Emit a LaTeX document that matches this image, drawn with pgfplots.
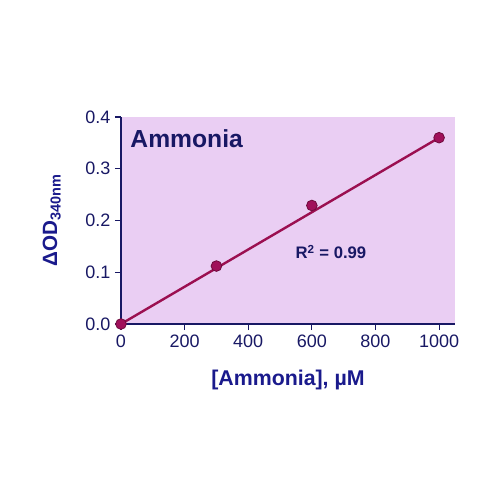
\documentclass[border=0pt]{standalone}
\usepackage{pgfplots}
\pgfplotsset{compat=1.18}
\usepackage{fontspec}
\setmainfont{Liberation Sans}
\definecolor{plotbg}{RGB}{234,206,243}
\definecolor{navy}{RGB}{24,24,100}
\definecolor{labelblue}{RGB}{26,26,140}
\definecolor{fitline}{RGB}{155,15,80}
\definecolor{markfill}{RGB}{160,16,90}
\definecolor{markdraw}{RGB}{110,10,60}

\begin{document}
\begin{tikzpicture}[x=1pt,y=1pt]
\path[use as bounding box] (-90.75,-132) rectangle (284.25,243);
\begin{axis}[
at={(0,0)}, anchor=south west,
scale only axis,
width=250.5pt, height=155.25pt,
xmin=0, xmax=1050,
ymin=0, ymax=0.4,
axis lines=left,
axis line style={-, draw=navy, line width=1pt},
axis background/.style={fill=plotbg},
xtick={0,200,400,600,800,1000},
ytick={0,0.1,0.2,0.3,0.4},
xticklabel style={/pgf/number format/1000 sep={}},
yticklabel style={/pgf/number format/fixed, /pgf/number format/fixed zerofill, /pgf/number format/precision=1},
/pgf/number format/assume math mode=true,
tick align=outside,
major tick length=4.5pt,
tick style={draw=navy, line width=0.8pt},
ticklabel style={font=\fontsize{13.5}{15}\selectfont, text=navy},
xlabel={\bfseries [Ammonia], µM},
ylabel={\bfseries ΔOD\textsubscript{340nm}},
label style={text=labelblue},
xlabel style={font=\fontsize{16}{18}\selectfont, at={(axis description cs:0.5,-0.27)}, anchor=center},
ylabel style={font=\fontsize{15.5}{18}\selectfont, at={(axis description cs:-0.207,0.5)}, anchor=center},
clip=false,
]
% regression line
\addplot[draw=fitline, line width=1.8pt] coordinates {(0,0) (1000,0.36)};
% measured points
\addplot[only marks, mark=*, mark size=4pt, mark options={fill=markfill, draw=markdraw, line width=0.6pt}]
coordinates {(0,0) (300,0.112) (600,0.229) (1000,0.360)};
\node[anchor=west, text=navy, font=\fontsize{18.5}{22}\selectfont\bfseries] at (axis cs:15,0.359) {Ammonia};
\node[text=navy, font=\fontsize{12.5}{14}\selectfont\bfseries] at (axis cs:660,0.139) {R\textsuperscript{2} = 0.99};
\end{axis}
\end{tikzpicture}
\end{document}
